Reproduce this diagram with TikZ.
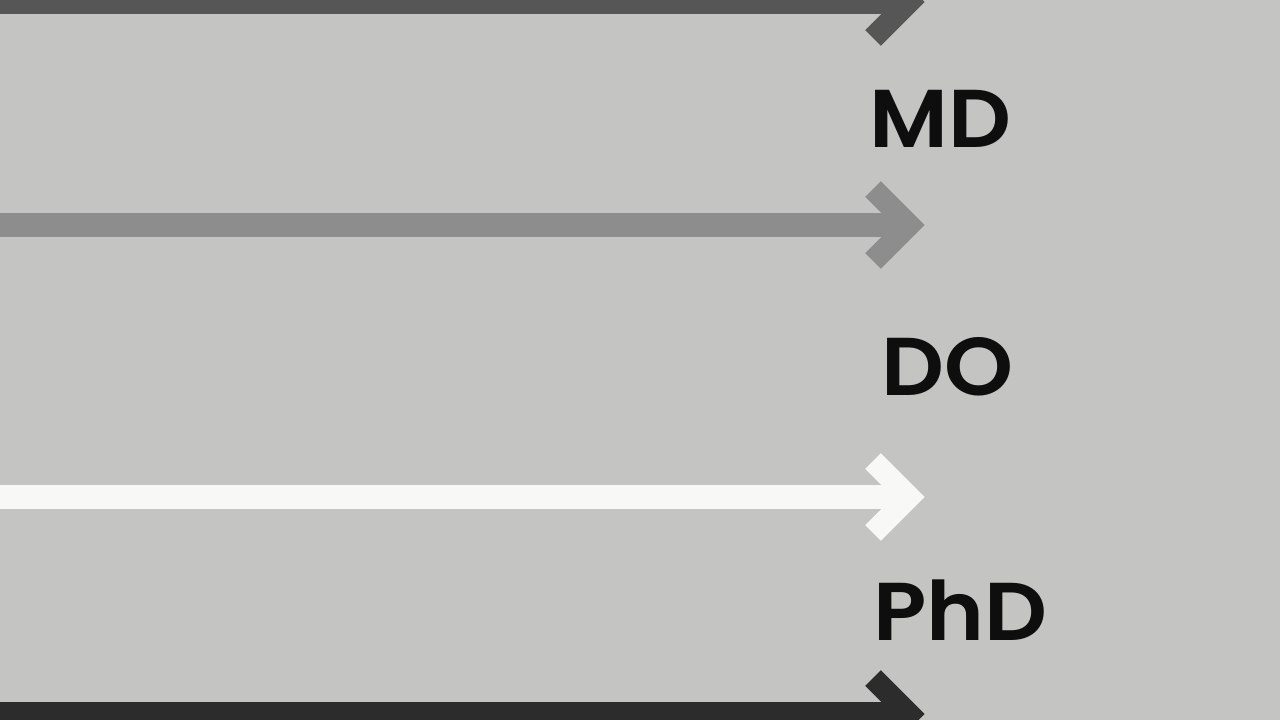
\documentclass[tikz,border=0pt]{standalone}
\usepackage{fontspec}
\setmainfont{Poppins}
\newfontfamily\labfont{Poppins}[UprightFont={* SemiBold}, FakeStretch=1.07]
\definecolor{bg}{HTML}{C4C4C2}
\definecolor{arrA}{HTML}{565656}
\definecolor{arrB}{HTML}{8D8D8D}
\definecolor{arrC}{HTML}{F8F8F6}
\definecolor{arrD}{HTML}{2B2C2B}
\definecolor{lab}{HTML}{0E0E0E}
\tikzset{
  shaft/.style={line width=24pt, line cap=butt},
  chev/.style={line width=22pt, line cap=butt, line join=miter},
  deg/.style={font=\labfont\fontsize{82}{86}\selectfont, text=lab, inner sep=0pt, anchor=base west}
}
\begin{document}
\begin{tikzpicture}[x=1pt,y=-1pt]
\fill[bg] (0,0) rectangle (1280,720);
\useasboundingbox (0,0) rectangle (1280,720);
\foreach \y/\c/\n in {2/arrA/1, 225/arrB/2, 497/arrC/3, 714/arrD/4} {
  \coordinate (s\n) at (0,\y);
  \coordinate (t\n) at (909,\y);
  \draw[shaft, draw=\c] (s\n) -- ([xshift=-14pt]t\n);
  \draw[chev, draw=\c] ([xshift=-36pt,yshift=36pt]t\n) -- (t\n) -- ([xshift=-36pt,yshift=-36pt]t\n);
}
\node[deg] (md) at (869,147) {MD};
\node[deg] (do) at (881,395) {DO};
\node[deg] (phd) at (873,640) {PhD};
\end{tikzpicture}
\end{document}
